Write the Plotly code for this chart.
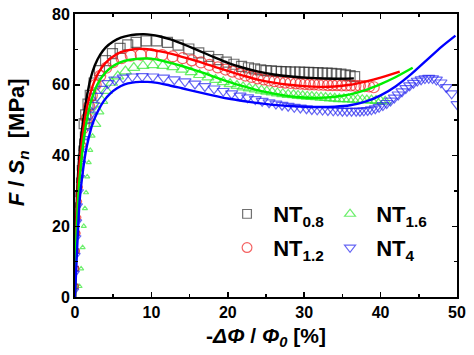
import plotly.graph_objects as go

# ---------------- data ----------------
# model fits (solid lines)
nt08_fit_x = [0, 0.2, 0.5, 0.9, 1.2, 1.5, 2.0, 2.6, 3.3, 4.0, 5.0, 6.0, 7.0, 8.0, 9.0, 10.0, 11.0, 12.5,
              14.0, 15.5, 17.0, 18.5, 20.0, 22.0, 24.0, 26.0, 28.0, 30.0, 32.0, 34.0, 36.5]
nt08_fit_y = [0, 25, 38, 47, 52, 56, 61.5, 65.5, 68.5, 70.5, 72.2, 73.3, 73.9, 74.2, 74.3, 74.1, 73.7, 72.8,
              71.6, 70.3, 68.9, 67.5, 66.2, 64.8, 63.7, 62.9, 62.4, 62.0, 61.8, 61.7, 61.8]

nt12_fit_x = [0, 0.2, 0.5, 0.9, 1.2, 1.5, 2.0, 2.6, 3.3, 4.0, 5.0, 6.0, 7.0, 8.0, 9.0, 10.0, 11.0, 12.5,
              14.0, 15.5, 17.0, 18.5, 20.0, 22.0, 24.0, 26.0, 28.0, 30.0, 32.0, 34.0, 36.0, 38.0, 40.0, 42.5]
nt12_fit_y = [0, 22, 35, 44, 49, 53, 57.5, 61.3, 64.2, 66.2, 68.0, 69.2, 69.8, 70.1, 70.1, 69.9, 69.5, 68.8,
              67.9, 67.0, 66.0, 64.9, 63.9, 62.6, 61.4, 60.6, 60.0, 59.6, 59.4, 59.5, 60.0, 60.9, 62.0, 63.7]

nt16_fit_x = [0, 0.2, 0.5, 0.9, 1.2, 1.5, 2.0, 2.6, 3.3, 4.0, 5.0, 6.0, 7.0, 8.0, 9.0, 10.0, 11.0, 12.5,
              14.0, 15.5, 17.0, 18.5, 20.0, 22.0, 24.0, 26.0, 28.0, 30.0, 32.0, 34.0, 36.0, 38.0, 40.0, 42.0, 44.2]
nt16_fit_y = [0, 18, 31, 40, 45.5, 49.5, 54.5, 58.5, 61.5, 63.5, 65.3, 66.4, 67.0, 67.3, 67.4, 67.4, 67.0, 66.2,
              65.3, 64.3, 63.2, 62.0, 60.9, 59.6, 58.4, 57.5, 56.8, 56.4, 56.3, 56.6, 57.3, 58.5, 60.2, 62.2, 64.8]

nt4_fit_x = [0, 0.2, 0.6, 1.0, 1.4, 1.8, 2.3, 3.0, 3.8, 4.6, 5.5, 6.5, 7.5, 8.5, 9.5, 10.5, 12.0, 14.0,
             16.0, 18.0, 20.0, 22.0, 24.0, 26.0, 28.0, 30.0, 32.0, 34.0, 36.0, 38.0, 40.0, 42.0, 44.0, 46.0, 48.0, 49.8]
nt4_fit_y = [0, 10, 27, 35, 41, 45, 49, 52.5, 55.5, 57.5, 59.0, 60.1, 60.6, 60.8, 60.8, 60.6, 60.0, 59.0,
             58.0, 57.0, 56.1, 55.4, 54.8, 54.3, 54.0, 53.8, 53.7, 53.8, 54.2, 55.2, 57.0, 59.6, 63.0, 66.9, 70.8, 73.9]

# experimental points (open symbols)
nt08_exp_x = [0.1, 0.15, 0.2, 0.25, 0.3, 0.35, 0.4, 0.5, 0.6, 0.7, 0.8, 0.9, 1.0, 1.2, 1.4, 1.7, 2.0, 2.5,
              3.2, 4.0, 4.9, 5.9, 6.9, 8.0, 9.3, 10.7, 12.1, 13.5, 14.9, 16.2, 17.5, 18.7, 19.8, 20.8, 21.8,
              22.7, 23.5, 24.3, 25.0, 25.7, 26.4, 27.0, 27.6, 28.2, 28.8, 29.4, 30.0, 30.6, 31.2, 31.8, 32.4,
              33.0, 33.6, 34.2, 34.8, 35.4, 36.0, 36.6]
nt08_exp_y = [3, 8, 13, 18, 22, 26, 29, 33, 36.5, 39.5, 42, 44, 46, 49, 51.5, 54.5, 57, 60.5,
              64, 66.8, 68.8, 70.3, 71.3, 72.0, 72.4, 72.4, 72.0, 71.2, 70.1, 69.0, 68.0, 67.1, 66.4, 65.8, 65.2,
              64.8, 64.5, 64.2, 64.0, 63.9, 63.8, 63.7, 63.7, 63.6, 63.6, 63.6, 63.5, 63.5, 63.4, 63.4, 63.3,
              63.3, 63.2, 63.1, 63.0, 62.8, 62.6, 62.3]

nt12_exp_x = [0.15, 0.22, 0.3, 0.38, 0.47, 0.57, 0.68, 0.8, 0.95, 1.12, 1.32, 1.55, 1.85, 2.2, 2.7, 3.3,
              4.1, 5.0, 6.1, 7.3, 8.6, 10.0, 11.4, 12.8, 14.1, 15.3, 16.5, 17.6, 18.7, 19.7, 20.6, 21.5, 22.3,
              23.1, 23.9, 24.7, 25.4, 26.1, 26.8, 27.5, 28.2, 28.9, 29.5, 30.1, 30.7, 31.3, 31.9, 32.5, 33.1,
              33.7, 34.3, 34.9, 35.5, 36.1, 36.7, 37.3, 37.9, 38.5, 39.1]
nt12_exp_y = [3, 8, 13, 18, 22.5, 27, 31, 35, 39, 43, 47, 50.5, 54, 57, 60, 62.5,
              64.8, 66.4, 67.5, 68.2, 68.5, 68.6, 68.4, 68.0, 67.5, 66.9, 66.3, 65.6, 64.9, 64.3, 63.7, 63.1, 62.6,
              62.2, 61.8, 61.5, 61.2, 61.0, 60.8, 60.6, 60.5, 60.4, 60.3, 60.2, 60.1, 60.1, 60.0, 60.0, 59.9,
              59.9, 59.9, 59.8, 59.8, 59.8, 59.7, 59.7, 59.6, 59.5, 59.3]

nt16_exp_x = [0.6, 0.8, 1.0, 1.15, 1.3, 1.45, 1.6, 1.8, 2.0, 2.3, 2.6, 3.0, 3.5, 4.1, 4.8, 5.6, 6.6, 7.7,
              8.9, 10.2, 11.5, 12.8, 14.0, 15.2, 16.3, 17.4, 18.4, 19.4, 20.3, 21.2, 22.0, 22.8, 23.6, 24.4,
              25.1, 25.8, 26.5, 27.2, 27.9, 28.6, 29.2, 29.8, 30.4, 31.0, 31.6, 32.2, 32.8, 33.4, 34.0, 34.6,
              35.2, 35.8, 36.4, 37.0, 37.6, 38.2, 38.8, 39.4, 40.0, 40.6]
nt16_exp_y = [3, 8, 14, 20, 25, 29.5, 34, 38, 41.5, 45.5, 49, 52.5, 55.5, 58.3, 60.6, 62.4, 63.8, 64.8,
              65.4, 65.6, 65.4, 65.0, 64.3, 63.6, 62.8, 62.1, 61.4, 60.8, 60.2, 59.7, 59.3, 59.0, 58.7, 58.4,
              58.1, 57.9, 57.6, 57.4, 57.2, 57.1, 56.9, 56.8, 56.7, 56.6, 56.5, 56.4, 56.3, 56.2, 56.1, 56.0,
              56.0, 55.9, 55.8, 55.8, 55.7, 55.6, 55.6, 55.5, 55.4, 55.3]

nt4_exp_x = [0.15, 0.25, 0.35, 0.45, 0.55, 0.65, 0.78, 0.92, 1.08, 1.25, 1.45, 1.7, 2.0, 2.4, 2.9, 3.5,
             4.3, 5.2, 6.3, 7.5, 8.8, 10.2, 11.6, 13.0, 14.4, 15.7, 17.0, 18.2, 19.4, 20.5, 21.6, 22.6, 23.6,
             24.5, 25.4, 26.3, 27.1, 27.9, 28.7, 29.5, 30.3, 31.0, 31.7, 32.4, 33.1, 33.8, 34.4, 35.0, 35.6,
             36.2, 36.8, 37.3, 37.8, 38.3, 38.8, 39.3, 39.8, 40.3, 40.8, 41.3, 41.8, 42.3, 42.8, 43.3, 43.8,
             44.3, 44.8, 45.3, 45.8, 46.3, 46.8, 47.3, 47.9, 48.6, 49.3, 50.0]
nt4_exp_y = [2, 7, 12, 17, 21.5, 26, 30, 34, 38, 41.5, 45, 48.5, 51.5, 54.3, 56.8, 58.8,
             60.4, 61.4, 62.0, 62.3, 62.4, 62.3, 62.0, 61.5, 60.9, 60.3, 59.6, 58.9, 58.2, 57.5, 56.9, 56.4, 55.9,
             55.4, 55.0, 54.6, 54.3, 54.0, 53.7, 53.5, 53.3, 53.1, 53.0, 52.9, 52.8, 52.7, 52.7, 52.6, 52.6,
             52.6, 52.6, 52.6, 52.7, 52.8, 53.0, 53.3, 53.7, 54.2, 54.8, 55.5, 56.3, 57.2, 58.1, 59.0, 59.8,
             60.5, 61.1, 61.5, 61.8, 61.9, 61.8, 61.4, 60.6, 59.3, 57.5, 54.5]

series_names = ["NT<sub>0.8</sub>", "NT<sub>1.2</sub>", "NT<sub>1.6</sub>", "NT<sub>4</sub>"]
x_tick_vals = [0, 10, 20, 30, 40, 50]
y_tick_vals = [0, 20, 40, 60, 80]
x_title = "<b>-<i>ΔΦ</i> / <i>Φ<sub>0</sub></i> [%]</b>"
y_title = "<b><i>F</i> / <i>S<sub>n</sub></i>  [MPa]</b>"

# ---------------- styling ----------------
FONT = "Liberation Sans, Arial, sans-serif"
NB = "\u00a0"


def sizes(ys, full):
    return [4.5 if y < 48 else full for y in ys]


fig = go.Figure()

exp_specs = [
    (nt08_exp_x, nt08_exp_y, series_names[0], "square-open", "#333333", 10, "legend"),
    (nt16_exp_x, nt16_exp_y, series_names[2], "triangle-up-open", "#2ee82e", 10.5, "legend"),
    (nt12_exp_x, nt12_exp_y, series_names[1], "circle-open", "#f02020", 11, "legend2"),
    (nt4_exp_x, nt4_exp_y, series_names[3], "triangle-down-open", "#2525f0", 10.5, "legend2"),
]
for xs, ys, name, sym, col, full, leg in exp_specs:
    fig.add_trace(go.Scatter(
        x=xs, y=ys, mode="markers", name=NB + "<b>" + name + "</b>", legend=leg,
        marker=dict(symbol=sym, size=sizes(ys, full), color=col, line=dict(color=col, width=1.2)),
    ))

fit_specs = [
    (nt08_fit_x, nt08_fit_y, "#000000"),
    (nt12_fit_x, nt12_fit_y, "#ff0000"),
    (nt16_fit_x, nt16_fit_y, "#00ee00"),
    (nt4_fit_x, nt4_fit_y, "#0000ff"),
]
for xs, ys, col in fit_specs:
    fig.add_trace(go.Scatter(
        x=xs, y=ys, mode="lines", showlegend=False,
        line=dict(color=col, width=2.4, shape="spline", smoothing=0.6),
    ))

axis_common = dict(
    showline=True, linecolor="black", linewidth=2, mirror="ticks",
    ticks="inside", ticklen=5, tickwidth=1.5, tickcolor="black",
    showgrid=False, zeroline=False, automargin=False, ticklabeloverflow="allow",
    tickfont=dict(family=FONT, size=16, color="black", weight="bold"),
)

fig.update_xaxes(
    range=[0, 50], tickvals=x_tick_vals,
    minor=dict(dtick=5, ticks="inside", ticklen=3, tickwidth=1.5, tickcolor="black"),
    title=dict(text=x_title, font=dict(family=FONT, size=21, color="black"), standoff=8),
    **axis_common,
)
fig.update_yaxes(
    range=[0, 80], tickvals=y_tick_vals,
    minor=dict(dtick=10, ticks="inside", ticklen=3, tickwidth=1.5, tickcolor="black"),
    **axis_common,
)

# y axis title placed as a rotated annotation (sits a bit above the plot centre in the reference)
fig.add_annotation(
    text=y_title, textangle=-90, showarrow=False,
    xref="paper", yref="paper", x=-0.147, y=0.546, xanchor="center", yanchor="middle",
    font=dict(family=FONT, size=22, color="black"),
)

legend_common = dict(
    orientation="h", xanchor="left", yanchor="middle", bgcolor="rgba(0,0,0,0)",
    font=dict(family=FONT, size=22, color="black"),
    entrywidth=58, itemclick=False, traceorder="normal",
)
fig.update_layout(
    width=474, height=355,
    margin=dict(l=75, r=17, t=14, b=58),
    paper_bgcolor="white", plot_bgcolor="white",
    legend=dict(x=0.398, y=0.293, **legend_common),
    legend2=dict(x=0.398, y=0.174, **legend_common),
    font=dict(family=FONT, color="black"),
    hovermode=False,
)

# remove the browser's default 8px page margin so the figure sits at the window's corner
fig.write_html(
    "out.html",
    config={"displayModeBar": False, "staticPlot": True},
    post_script="document.body.style.margin='0px';",
)
